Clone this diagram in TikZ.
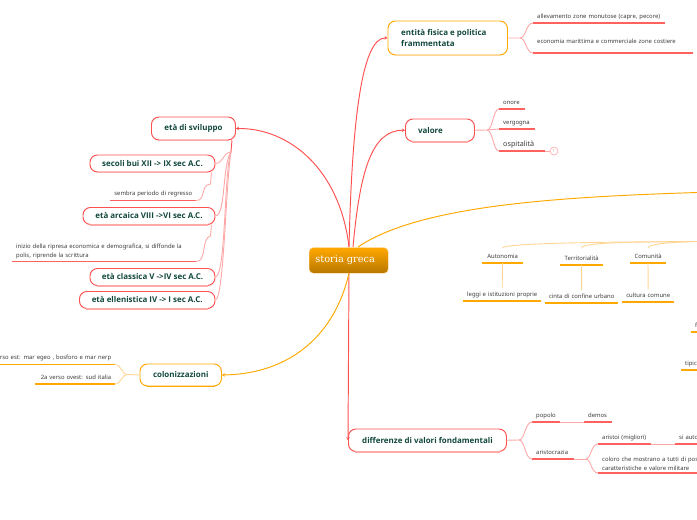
\documentclass[tikz,border=0pt]{standalone}
\usepackage{fontspec}
\setmainfont{Noto Sans}
\newfontfamily\titlefont{DejaVu Serif}
\newfontfamily\boxfont[BoldFont={Open Sans Bold}]{Open Sans}
\usetikzlibrary{arrows.meta}
\definecolor{redD}{HTML}{FF5050}
\definecolor{redL}{HTML}{FFA8A8}
\definecolor{redM}{HTML}{FF6060}
\definecolor{oraD}{HTML}{FFA800}
\definecolor{oraL}{HTML}{FFD595}
\definecolor{oraB}{HTML}{B87700}
\definecolor{txtG}{HTML}{12483C}
\definecolor{txtL}{HTML}{3C3C3C}
\tikzset{
  boxnode/.style={draw=#1,fill=white,line width=0.95pt,rounded corners=7.5pt,inner sep=0pt,
     text=txtG,font=\boxfont\fontsize{7.95}{11}\selectfont\bfseries,align=left},
  leaf/.style={inner sep=0pt,inner ysep=2pt,text=txtL,font=\fontsize{5.9}{9.2}\selectfont,anchor=south west,execute at begin node=\strut},
  redlink/.style={draw=redL,line width=0.9pt},
  oralink/.style={draw=oraL,line width=0.9pt},
  redmain/.style={draw=redD,line width=0.95pt,-{Stealth[length=3pt,width=3.5pt]}},
  oramain/.style={draw=oraD,line width=0.95pt},
  redbar/.style={draw=redM,line width=1.5pt},
  orabar/.style={draw=oraD,line width=1.5pt},
}
% name, x1, y1, x2, y2, colour, light colour, text
\newcommand{\bxn}[8]{%
  \node[boxnode=#6,minimum width=#4pt-#2pt,minimum height=#5pt-#3pt,anchor=north west] (#1) at (#2,#3) {\raisebox{-0.6pt}{#8}};
  \draw[draw=#7,line width=1.4pt] ([xshift=7pt]#1.south west) -- ([xshift=-7pt]#1.south east);}
% name, x1, x2, yline, align, bar style, text
\newcommand{\lfn}[7]{%
  \node[leaf,minimum width=#3pt-#2pt,text width=#3pt-#2pt-8pt,inner xsep=4pt,align=#5] (#1) at (#2,#4) {#7};
  \draw[#6] (#1.south west) -- (#1.south east);}
\begin{document}
\begin{tikzpicture}[x=1pt,y=-1pt]
\useasboundingbox (0,0) rectangle (697,520);
\clip (0,0) rectangle (697,520);
% central
\node[rounded corners=4pt,top color=oraD,bottom color=oraB,draw=oraL,line width=0.4pt,
  minimum width=79pt,minimum height=25.5pt,inner sep=0pt,text=white,
  font=\titlefont\fontsize{9.8}{12}\selectfont,anchor=north west] (cen) at (309,247.5) {\hspace{-7pt}\raisebox{-2pt}{storia greca}};
% boxes
\bxn{svi}{151}{116.5}{235}{139.5}{redD}{redL}{età di sviluppo}
\bxn{sec}{89.5}{154.5}{214.5}{171.5}{redD}{redL}{secoli bui XII -> IX sec A.C.}
\bxn{arc}{82.5}{207}{214.5}{224}{redD}{redL}{età arcaica VIII ->VI sec A.C.}
\bxn{cla}{89.5}{268}{214.5}{285}{redD}{redL}{età classica V ->IV sec A.C.}
\bxn{ell}{79}{291}{214.5}{308}{redD}{redL}{età ellenistica IV -> I sec A.C.}
\bxn{col}{139.5}{363.5}{221}{385.5}{oraD}{oraD}{colonizzazioni}
\bxn{ent}{387.5}{20.5}{507}{54.5}{oraD}{oraL}{\hspace{7pt}\parbox{100pt}{entità fisica e politica\\frammentata}}
\bxn{val}{405}{118.5}{474}{141}{redD}{redL}{\hspace{-19pt}valore}
\bxn{dif}{348}{428.5}{506}{451}{redD}{redL}{differenze di valori fondamentali}
% leaves
\lfn{sem}{110}{196}{200.5}{right}{redbar}{sembra periodo di regresso}
\lfn{ini}{12}{196}{261.5}{left}{redbar}{inizio della ripresa economica e demografica, si diffonde la\\polis, riprende la scrittura}
\lfn{est}{-60}{115}{364.5}{right}{orabar}{1a verso est: mar egeo , bosforo e mar nerp}
\lfn{ove}{35}{115}{384}{right}{orabar}{2a verso ovest: sud italia}
\lfn{all}{533}{665}{23}{left}{redbar}{allevamento zone monutose (capre, pecore)}
\lfn{eco}{533}{693}{53}{left}{redbar}{\raisebox{5pt}{economia marittima e commerciale zone costiere}}
\lfn{ono}{499}{525}{109}{left}{redbar}{onore}
\lfn{ver}{499}{535}{129}{left}{redbar}{vergogna}
\lfn{osp}{499}{545}{151}{left}{redbar}{\fontsize{7.2}{9}\selectfont ospitalità}
\node[circle,draw=redL,fill=white,line width=0.6pt,inner sep=0pt,minimum size=8pt,text=redL,font=\fontsize{4.5}{5}\selectfont] (num) at (554,151) {1};
\draw[redlink] (osp.south east) -- (num.west);
\lfn{aut}{482}{523}{263}{center}{orabar}{\mbox{Autonomia}}
\lfn{ter}{560}{603}{265}{center}{orabar}{\mbox{Territorialità}}
\lfn{com}{630}{666}{263}{center}{orabar}{\mbox{Comunità}}
\lfn{leg}{463}{541}{301}{center}{orabar}{\makebox[70pt][c]{leggi e istituzioni proprie}}
\lfn{cin}{545}{618}{303}{center}{orabar}{\makebox[65pt][c]{cinta di confine urbano}}
\lfn{cul}{622}{674}{302}{center}{orabar}{\mbox{cultura comune}}
\lfn{ff}{691}{730}{332}{left}{orabar}{f}
\lfn{tip}{681}{730}{370}{left}{orabar}{tipici}
\lfn{pop}{532}{560}{422}{left}{redbar}{popolo}
\lfn{dem}{584}{612}{422}{left}{redbar}{demos}
\lfn{ari}{532}{574}{459}{left}{redbar}{aristocrazia}
\lfn{ais}{598}{651}{444}{left}{redbar}{aristoi (migliori)}
\lfn{sia}{675}{740}{444}{left}{redbar}{si auto}
\lfn{clr}{598}{760}{473}{left}{redbar}{coloro che mostrano a tutti di posse\\caratteristiche e valore militare}
% main red
\draw[redmain] (349,247) .. controls (352,120) and (362,37) .. (ent.west);
\draw[redmain] (353,247) .. controls (360,170) and (372,130) .. (val.west);
\draw[redmain] (349,247) .. controls (340,170) and (290,128) .. (svi.east);
\draw[redmain] (349,273) -- (dif.west);
% main orange
\coordinate (off1) at (697,192.5);
\coordinate (off2) at (697,241.5);
\draw[oramain] (358,247) .. controls (420,205) and (560,197) .. (off1);
\draw[oramain,-{Stealth[length=3pt,width=3.5pt]}] (349,273) .. controls (335,335) and (290,374) .. (col.east);
% secondary red: età di sviluppo
\coordinate (sj) at (231,152);
\draw[redD,line width=0.9pt] ([xshift=-4pt]svi.south east) -- (sj);
\draw[redlink] (sj) .. controls (222,153) and (224,163) .. (sec.east);
\draw[redlink] (sj) .. controls (222,165) and (226,215) .. (arc.east);
\draw[redlink] (sj) .. controls (224,170) and (226,276) .. (cla.east);
\draw[redlink] (sj) .. controls (226,180) and (224,299) .. (ell.east);
\draw[redlink] ([xshift=-4pt]sec.south east) -- (210.5,184) .. controls (200,185) and (206,200.5) .. (sem.south east);
\draw[redlink] ([xshift=-4pt]arc.south east) -- (210.5,236) .. controls (201,238) and (207,261.5) .. (ini.south east);
% secondary orange
\draw[oralink] (col.west) -- (127,374.5) .. controls (122,374.5) and (121,364.5) .. (est.south east);
\draw[oralink] (127,374.5) .. controls (122,374.5) and (121,384) .. (ove.south east);
\draw[oralink] (off2) .. controls (600,242) and (505,243) .. (502.5,248);
\draw[oralink] (off2) .. controls (640,242) and (582,242) .. (581.5,248);
\draw[oralink] (off2) .. controls (680,242) and (649,243) .. (648,248);
\draw[oralink] (502.5,263) -- ([yshift=-1pt]leg.north);
\draw[oralink] (581.5,265) -- ([yshift=-1pt]cin.north);
\draw[oralink] (648,263) -- ([yshift=-1pt]cul.north);
% entità etc.
\draw[redlink] (ent.east) -- (520,38);
\draw[redlink] (520,38) .. controls (526,38) and (526,23) .. (all.south west);
\draw[redlink] (520,38) .. controls (526,38) and (526,53) .. (eco.south west);
\draw[redlink] (val.east) -- (487,130);
\draw[redlink] (487,130) .. controls (493,130) and (493,109) .. (ono.south west);
\draw[redlink] (487,130) -- (ver.south west);
\draw[redlink] (487,130) .. controls (493,130) and (493,151) .. (osp.south west);
\draw[redlink] (dif.east) -- (519,440);
\draw[redlink] (519,440) .. controls (525,440) and (525,422) .. (pop.south west);
\draw[redlink] (519,440) .. controls (525,440) and (525,459) .. (ari.south west);
\draw[redlink] (pop.south east) -- (dem.south west);
\draw[redlink] (ari.south east) -- (586,459);
\draw[redlink] (586,459) .. controls (591,459) and (591,444) .. (ais.south west);
\draw[redlink] (586,459) .. controls (591,459) and (591,473) .. (clr.south west);
\draw[redlink] (ais.south east) -- (sia.south west);
\end{tikzpicture}
\end{document}
